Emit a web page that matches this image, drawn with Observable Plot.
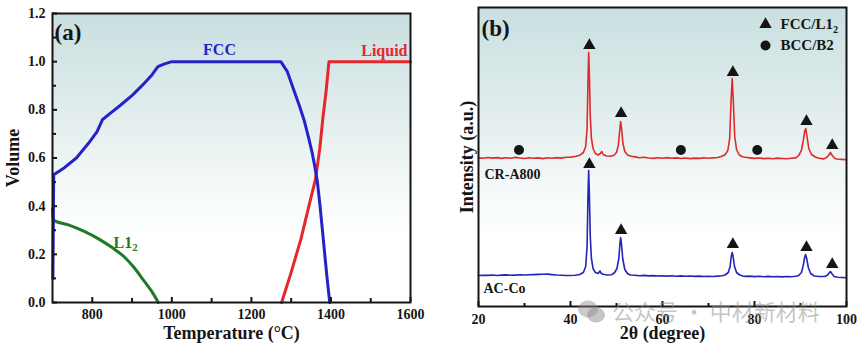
<!DOCTYPE html>
<html>
<head>
<meta charset="utf-8">
<script src="https://cdn.jsdelivr.net/npm/d3@7"></script>
<script src="https://cdn.jsdelivr.net/npm/@observablehq/plot@0.6"></script>
<style>
  body { margin: 0; background: #fff; }
  #wrap { position: relative; width: 865px; height: 348px; display: flex; }
  #a { width: 440px; height: 348px; }
  #b { width: 425px; height: 348px; }
  #wm { position: absolute; left: 612px; top: 300px; height: 21px; line-height: 21px; font-family: "Noto Sans CJK SC"; font-size: 22px; color: rgba(140,140,140,0.5); white-space: nowrap; pointer-events: none; }
  #wmicon { position: absolute; left: 577px; top: 298px; pointer-events: none; }
</style>
</head>
<body>
<div id="wrap">
  <div id="a"></div>
  <div id="b"></div>
  <svg id="wmicon" width="30" height="28" viewBox="0 0 30 28">
    <ellipse cx="11" cy="11" rx="10" ry="8.5" fill="rgba(140,140,140,0.45)"/>
    <ellipse cx="19" cy="17" rx="9" ry="7.5" fill="rgba(140,140,140,0.5)"/>
  </svg>
  <div id="wm">公众号 · 中材新材料</div>
</div>
<script>
// ---------- Panel (a): phase volume fractions ----------
const fccTemp = [701, 703, 730, 760, 790, 812, 826, 845, 870, 901, 930, 950, 965, 980, 1000, 1274, 1290, 1307, 1320, 1332, 1343, 1353, 1360, 1366, 1372, 1378, 1385, 1391, 1397];
const fccVol  = [0.10, 0.53, 0.56, 0.60, 0.66, 0.71, 0.76, 0.785, 0.818, 0.861, 0.909, 0.945, 0.979, 0.99, 1.0, 1.0, 0.96, 0.88, 0.82, 0.76, 0.69, 0.62, 0.56, 0.50, 0.41, 0.31, 0.19, 0.09, 0.0];
const l12Temp = [700, 702, 740, 780, 820, 850, 880, 905, 930, 950, 966];
const l12Vol  = [0.39, 0.342, 0.322, 0.295, 0.26, 0.228, 0.19, 0.145, 0.09, 0.045, 0.0];
const liqTemp = [1276, 1299, 1324, 1349, 1361, 1372, 1380, 1388, 1395, 1600];
const liqVol  = [0.0, 0.12, 0.26, 0.43, 0.51, 0.64, 0.77, 0.88, 1.0, 1.0];

const tempTicks = [800, 1000, 1200, 1400, 1600];
const tempMinor = [900, 1100, 1300, 1500];
const volTicks = [0, 0.2, 0.4, 0.6, 0.8, 1.0, 1.2];
const volMinor = [0.1, 0.3, 0.5, 0.7, 0.9, 1.1];

// ---------- Panel (b): XRD patterns ----------
const crA800 = [
  [20,148.6],[21,148.2],[22,149.0],[23,148.4],[24,148.9],[25,148.1],[26,148.7],[27,148.3],[28,149.1],[29,148.5],
  [30,148.0],[31,148.8],[32,148.2],[33,148.6],[34,147.9],[35,148.7],[36,148.3],[37,148.9],[38,148.4],[39,149.2],
  [40,149.4],[41,150.0],[42,151.2],[42.8,154],[43.3,160],[43.6,178],[43.8,225],[43.95,254],[44.1,232],[44.3,190],
  [44.55,168],[44.9,158],[45.4,153],[46.0,151.5],[46.5,153],[46.8,155],[47.1,152],[47.8,150.5],[48.6,150.2],[49.4,151],
  [50.0,154],[50.4,161],[50.7,176],[50.9,185],[51.1,178],[51.4,163],[51.8,155],[52.4,151.5],[53.2,150.2],[54,149.6],
  [55,148.8],[56,149.2],[57,148.5],[58,148.1],[59,148.7],[60,148.3],[61,148.9],[62,148.2],[63,148.6],[64,148.0],
  [65,148.5],[66,147.9],[67,148.4],[68,148.1],[69,148.7],[70,148.2],[71,148.6],[72,149.0],[72.9,150.2],[73.6,151.8],
  [74.2,156],[74.6,168],[74.9,205],[75.15,228],[75.4,205],[75.7,170],[76.1,157],[76.7,151.5],[77.4,149.8],[78,149.2],
  [79,148.6],[80,148.1],[81,148.5],[82,147.9],[83,148.3],[84,147.8],[85,148.4],[86,148.0],[87,147.7],[88,148.2],
  [89,148.6],[89.6,151],[90.2,156],[90.6,166],[90.95,176],[91.15,178],[91.45,169],[91.8,158],[92.4,152],[93.2,149.5],
  [94,148.2],[95,147.6],[95.6,148.8],[96.1,151],[96.5,154],[96.9,151],[97.5,148],[98,147.5],[99,147.1],[100,146.8]
];
const acCo = [
  [20,31.0],[21,31.3],[22,31.1],[23,31.5],[24,31.0],[25,31.4],[26,31.6],[27,31.2],[28,31.4],[29,31.7],
  [30,31.5],[31,31.8],[32,31.9],[33,32.1],[34,32.3],[35,32.4],[36,31.9],[37,31.5],[38,31.3],[39,31.0],
  [40,31.0],[41,31.3],[42,32.0],[42.8,34],[43.3,40],[43.6,60],[43.8,110],[43.95,136],[44.1,112],[44.3,70],
  [44.55,48],[44.9,38],[45.4,34],[46.0,33],[46.4,35.5],[46.7,33],[47.3,32],[48,31.5],[49,31.8],[49.6,34],
  [50.1,38],[50.5,48],[50.75,63],[50.9,69],[51.05,64],[51.35,48],[51.8,37],[52.4,33],[53,31.5],[54,31.2],
  [55,30.8],[56,31.1],[57,30.6],[58,30.9],[59,30.5],[60,30.8],[61,30.4],[62,30.7],[63,30.3],[64,30.6],
  [65,30.2],[66,30.5],[67,30.1],[68,30.4],[69,30.0],[70,30.3],[71,30.0],[72,30.4],[73,30.8],[73.6,31.5],
  [74.3,34],[74.7,40],[74.95,50],[75.15,54],[75.35,50],[75.65,40],[76.1,34],[76.8,31.5],[77.5,30.4],[78,30.1],
  [79,30.4],[80,29.9],[81,30.2],[82,29.8],[83,30.1],[84,29.7],[85,30.0],[86,29.6],[87,30.0],[88,29.8],
  [89,30.3],[89.6,31],[90.2,34],[90.6,41],[90.9,49],[91.1,52],[91.35,48],[91.7,39],[92.2,33],[93,30.5],
  [94,30],[95.3,30],[95.9,31.5],[96.3,34],[96.5,35],[96.8,33],[97.3,30],[98,29.2],[99,29],[100,28.8]
];
const fccTheta   = [44.1, 51.0, 75.3, 91.3, 96.9];
const crTriLevel = [261, 193, 234, 185, 161];
const acTriLevel = [142, 76, 62, 59, 42];
const bccTheta   = [28.8, 64.0, 80.6];
const bccLevel   = [156.5, 156.5, 156.5];

const thetaTicks = [20, 40, 60, 80, 100];
const thetaMinor = [30, 50, 70, 90];

// ---------- styles ----------
const BLUE = "#2323c8", RED = "#e5262b", GREEN = "#1f7a24", INK = "#151515";
const XBLUE = "#2424b8", XRED = "#e02a2a";
const FONT = "Liberation Serif";

function addGradient(svg, id) {
  const defs = d3.select(svg).insert("defs", ":first-child");
  const g = defs.append("linearGradient").attr("id", id)
    .attr("x1", 0).attr("y1", 0).attr("x2", 0).attr("y2", 1);
  g.append("stop").attr("offset", "0%").attr("stop-color", "#c9dfe0");
  g.append("stop").attr("offset", "35%").attr("stop-color", "#e2eded");
  g.append("stop").attr("offset", "65%").attr("stop-color", "#f8fbfb");
  g.append("stop").attr("offset", "78%").attr("stop-color", "#ffffff");
  g.append("stop").attr("offset", "100%").attr("stop-color", "#ffffff");
}
function subscriptify(svg) {
  d3.select(svg).selectAll("text").each(function () {
    const t = this.textContent;
    if (t && t.includes("₂")) {
      const parts = t.split("₂");
      const sel = d3.select(this);
      sel.text(null);
      sel.append("tspan").text(parts[0]);
      sel.append("tspan").attr("font-size", "0.68em").attr("dy", "0.35em").text("2");
    }
  });
}

const baseStyle = { fontFamily: FONT, fontWeight: "bold", fontSize: "14px", color: INK, background: "transparent", overflow: "visible" };
const T = { fontFamily: FONT, fontWeight: "bold", fill: INK, lineAnchor: "middle" };

// Panel (a)
const toPts = (xs, ys) => xs.map((x, i) => ({ x, y: ys[i] }));
const plotA = Plot.plot({
  width: 440, height: 348,
  marginLeft: 52, marginRight: 30, marginTop: 13, marginBottom: 46,
  style: baseStyle,
  x: { domain: [700, 1600] },
  y: { domain: [0, 1.2] },
  marks: [
    Plot.frame({ fill: "url(#gradA)", stroke: null }),
    Plot.line(toPts(l12Temp, l12Vol), { x: "x", y: "y", stroke: GREEN, strokeWidth: 3, curve: "monotone-x" }),
    Plot.line(toPts(liqTemp, liqVol), { x: "x", y: "y", stroke: RED, strokeWidth: 3 }),
    Plot.line(toPts(fccTemp, fccVol), { x: "x", y: "y", stroke: BLUE, strokeWidth: 3 }),
    Plot.axisX({ ticks: tempTicks, tickSize: -5, tickFormat: () => "", label: null, strokeWidth: 2 }),
    Plot.axisX({ ticks: tempMinor, tickSize: -4, tickFormat: () => "", label: null, strokeWidth: 2 }),
    Plot.axisX({ ticks: tempTicks, tickSize: 0, tickPadding: 7, tickFormat: d => String(d), label: null, fontSize: 14, fontFamily: FONT, fontWeight: "bold", fill: INK }),
    Plot.axisY({ ticks: volTicks, tickSize: -5, tickFormat: () => "", label: null, strokeWidth: 2 }),
    Plot.axisY({ ticks: volMinor, tickSize: -4, tickFormat: () => "", label: null, strokeWidth: 2 }),
    Plot.axisY({ ticks: volTicks, tickSize: 0, tickPadding: 7, tickFormat: d3.format(".1f"), label: null, fontSize: 14, fontFamily: FONT, fontWeight: "bold", fill: INK }),
    Plot.frame({ stroke: INK, strokeWidth: 2 }),
    Plot.text(["(a)"], { text: d => d, frameAnchor: "top-left", dx: 2, dy: 19, textAnchor: "start", fontSize: 23, ...T }),
    Plot.text(["FCC"], { text: d => d, frameAnchor: "top-left", dx: 167, dy: 36, textAnchor: "middle", fontSize: 16, ...T, fill: BLUE }),
    Plot.text(["Liquid"], { text: d => d, frameAnchor: "top-right", dx: -3, dy: 37, textAnchor: "end", fontSize: 16, ...T, fill: RED }),
    Plot.text(["L1₂"], { text: d => d, frameAnchor: "top-left", dx: 61, dy: 229, textAnchor: "start", fontSize: 16, ...T, fill: GREEN }),
    Plot.text(["Volume"], { text: d => d, frameAnchor: "left", dx: -39, rotate: -90, textAnchor: "middle", fontSize: 18, ...T }),
    Plot.text(["Temperature (°C)"], { text: d => d, frameAnchor: "bottom", dy: 31, textAnchor: "middle", fontSize: 18, ...T })
  ]
});
addGradient(plotA, "gradA");
subscriptify(plotA);
document.getElementById("a").append(plotA);

// Panel (b)
const toXY = arr => arr.map(([x, y]) => ({ x, y }));
const legendItems = [
  { label: "FCC/L1₂", symbol: "triangle", dy: 17 },
  { label: "BCC/B2", symbol: "circle", dy: 38 }
];
const plotB = Plot.plot({
  width: 425, height: 348,
  marginLeft: 38, marginRight: 19, marginTop: 7, marginBottom: 42,
  style: baseStyle,
  x: { domain: [20, 100] },
  y: { domain: [0, 299], axis: null },
  marks: [
    Plot.frame({ fill: "url(#gradB)", stroke: null }),
    Plot.line(toXY(crA800), { x: "x", y: "y", stroke: XRED, strokeWidth: 1.6 }),
    Plot.line(toXY(acCo), { x: "x", y: "y", stroke: XBLUE, strokeWidth: 1.6 }),
    Plot.dot(toPts(fccTheta, crTriLevel), { x: "x", y: "y", symbol: "triangle", r: 4.6, fill: INK, stroke: null }),
    Plot.dot(toPts(fccTheta, acTriLevel), { x: "x", y: "y", symbol: "triangle", r: 4.6, fill: INK, stroke: null }),
    Plot.dot(toPts(bccTheta, bccLevel), { x: "x", y: "y", symbol: "circle", r: 5, fill: INK, stroke: null }),
    Plot.axisX({ ticks: thetaTicks, tickSize: -5, tickFormat: () => "", label: null, strokeWidth: 2 }),
    Plot.axisX({ ticks: thetaMinor, tickSize: -3, tickFormat: () => "", label: null, strokeWidth: 2 }),
    Plot.axisX({ ticks: thetaTicks, tickSize: 0, tickPadding: 8, tickFormat: d => String(d), label: null, fontSize: 14, fontFamily: FONT, fontWeight: "bold", fill: INK }),
    Plot.frame({ stroke: INK, strokeWidth: 2 }),
    Plot.text(["(b)"], { text: d => d, frameAnchor: "top-left", dx: 3, dy: 21, textAnchor: "start", fontSize: 23, ...T }),
    Plot.text(["CR-A800"], { text: d => d, frameAnchor: "top-left", dx: 6, dy: 167, textAnchor: "start", fontSize: 14, ...T }),
    Plot.text(["AC-Co"], { text: d => d, frameAnchor: "top-left", dx: 5, dy: 281, textAnchor: "start", fontSize: 14, ...T }),
    ...legendItems.map(it => Plot.dot([it], { frameAnchor: "top-right", dx: -81, dy: it.dy, symbol: it.symbol, r: it.symbol === "circle" ? 5 : 4.6, fill: INK, stroke: null })),
    ...legendItems.map(it => Plot.text([it], { text: "label", frameAnchor: "top-right", dx: -66, dy: it.dy, textAnchor: "start", fontSize: 15, ...T })),
    Plot.text(["Intensity (a.u.)"], { text: d => d, frameAnchor: "left", dx: -11, rotate: -90, textAnchor: "middle", fontSize: 18, ...T }),
    Plot.text(["2θ (degree)"], { text: d => d, frameAnchor: "bottom", dy: 27, textAnchor: "middle", fontSize: 18, ...T })
  ]
});
addGradient(plotB, "gradB");
subscriptify(plotB);
document.getElementById("b").append(plotB);
</script>
</body>
</html>
